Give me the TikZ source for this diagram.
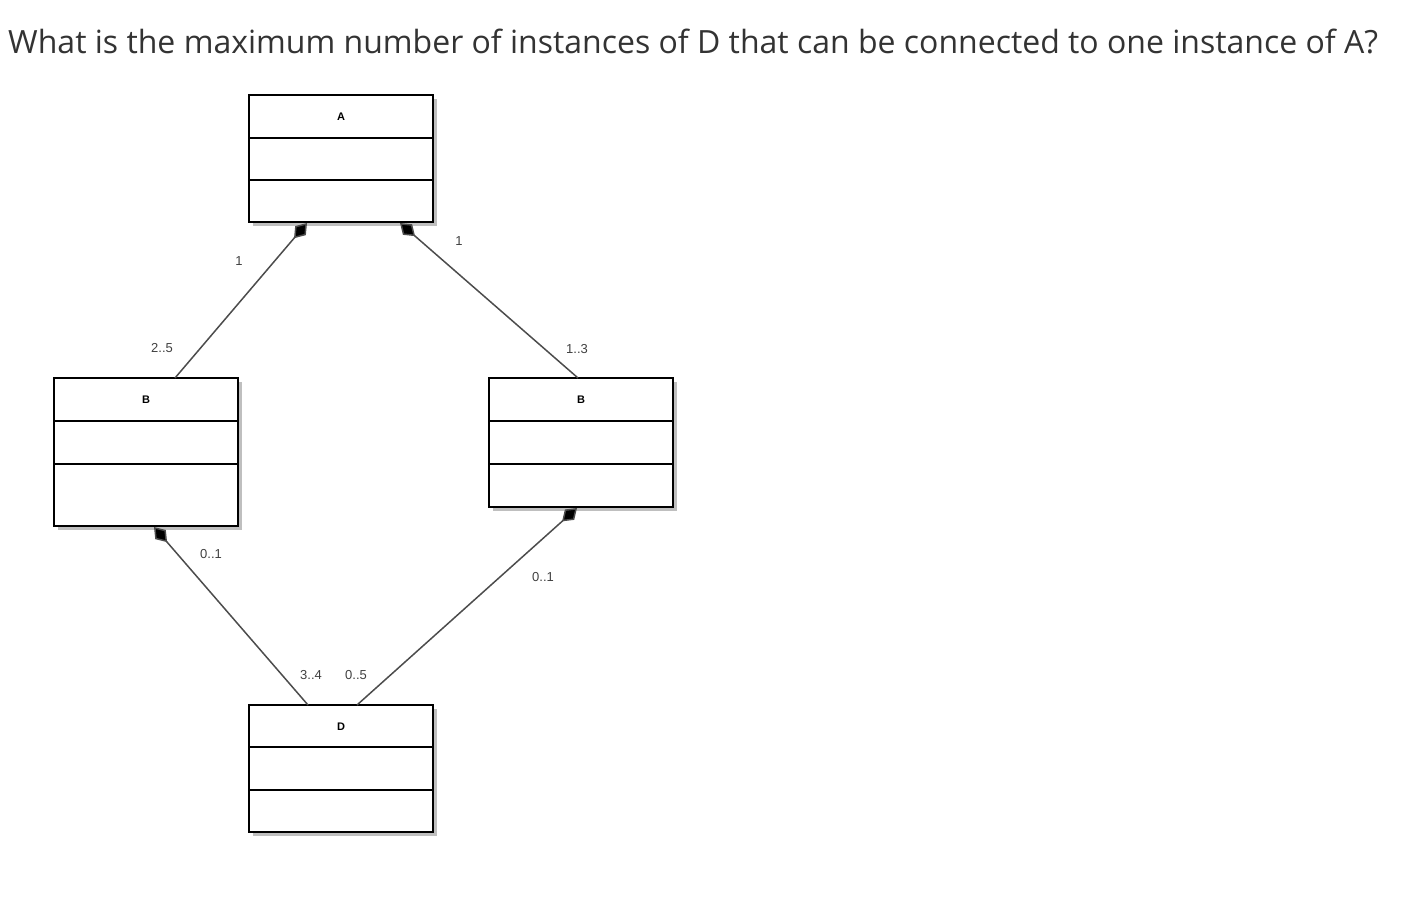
\documentclass[tikz,border=0pt]{standalone}
\usepackage{fontspec}
\setmainfont{Open Sans}
\newfontfamily\lab{Liberation Sans}
\usetikzlibrary{arrows.meta}
\tikzset{
  cls/.style={draw=black,line width=2.5pt,fill=white},
  shad/.style={fill=black!25},
  assoc/.style={draw=black!70,line width=1.5pt,{Diamond[length=20pt,width=14pt,fill=black]}-},
  mult/.style={font=\lab\fontsize{13}{15}\selectfont,text=black!75},
  cname/.style={font=\lab\bfseries\fontsize{11}{13}\selectfont}
}
\begin{document}
\begin{tikzpicture}[x=1pt,y=-1pt]
\useasboundingbox (0,0) rectangle (1416,912);
\node[anchor=west,inner sep=0,font=\fontsize{32}{38}\selectfont,text=black!80] (q) at (8,41) {What is the maximum number of instances of D that can be connected to one instance of A?};
% shadows
\foreach \a/\b/\c/\d in {249/95/433/222,54/378/238/526,489/378/673/507,249/705/433/832}
  \fill[shad] (\a+4,\b+4) rectangle (\c+4,\d+4);
% classes
\draw[cls] (249,95) rectangle (433,222); \draw[line width=2.5pt] (249,138)--(433,138) (249,180)--(433,180);
\draw[cls] (54,378) rectangle (238,526); \draw[line width=2.5pt] (54,421)--(238,421) (54,464)--(238,464);
\draw[cls] (489,378) rectangle (673,507); \draw[line width=2.5pt] (489,421)--(673,421) (489,464)--(673,464);
\draw[cls] (249,705) rectangle (433,832); \draw[line width=2.5pt] (249,747)--(433,747) (249,790)--(433,790);
\node[cname] (A) at (341,117) {A};
\node[cname] (B1) at (146,400) {B};
\node[cname] (B2) at (581,400) {B};
\node[cname] (D) at (341,727) {D};
\coordinate (a1) at (307,223); \coordinate (a2) at (400,223);
\coordinate (b1t) at (175,378); \coordinate (b2t) at (578,378);
\coordinate (b1b) at (154,527); \coordinate (b2b) at (577,508);
\coordinate (d1) at (308,705); \coordinate (d2) at (357,705);
\draw[assoc] (a1) -- (b1t);
\draw[assoc] (a2) -- (b2t);
\draw[assoc] (b1b) -- (d1);
\draw[assoc] (b2b) -- (d2);
\node[mult] (m1) at (239,261) {1};
\node[mult] (m2) at (459,241) {1};
\node[mult] (m3) at (162,348) {2..5};
\node[mult] (m4) at (577,349) {1..3};
\node[mult] (m5) at (211,554) {0..1};
\node[mult] (m6) at (543,577) {0..1};
\node[mult] (m7) at (311,675) {3..4};
\node[mult] (m8) at (356,675) {0..5};
\end{tikzpicture}
\end{document}
